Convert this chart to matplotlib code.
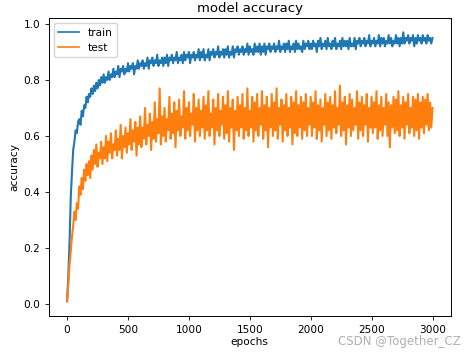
import matplotlib
matplotlib.use("Agg")
import matplotlib.pyplot as plt

# epochs sampled every 10 (0..3000)
epochs = list(range(0, 3001, 10))

train_acc = [
    0.01, 0.10, 0.22, 0.38, 0.47, 0.55, 0.58, 0.62, 0.61, 0.65,
    0.66, 0.64, 0.69, 0.67, 0.71, 0.70, 0.74, 0.72, 0.75, 0.74,
    0.77, 0.75, 0.78, 0.76, 0.79, 0.77, 0.80, 0.78, 0.81, 0.79,
    0.82, 0.79, 0.81, 0.80, 0.83, 0.80, 0.82, 0.81, 0.84, 0.81,
    0.83, 0.82, 0.85, 0.81, 0.84, 0.83, 0.85, 0.82, 0.84, 0.83,
    0.86, 0.83, 0.85, 0.84, 0.86, 0.82, 0.85, 0.84, 0.87, 0.84,
    0.86, 0.85, 0.87, 0.84, 0.86, 0.85, 0.88, 0.84, 0.87, 0.86,
    0.88, 0.85, 0.87, 0.86, 0.89, 0.85, 0.87, 0.86, 0.88, 0.85,
    0.88, 0.86, 0.89, 0.85, 0.88, 0.87, 0.89, 0.86, 0.88, 0.87,
    0.90, 0.86, 0.88, 0.87, 0.89, 0.86, 0.90, 0.87, 0.89, 0.88,
    0.90, 0.86, 0.89, 0.88, 0.90, 0.87, 0.89, 0.88, 0.91, 0.87,
    0.90, 0.88, 0.91, 0.87, 0.89, 0.88, 0.91, 0.87, 0.90, 0.89,
    0.91, 0.88, 0.90, 0.89, 0.92, 0.88, 0.90, 0.89, 0.91, 0.88,
    0.91, 0.89, 0.92, 0.88, 0.90, 0.89, 0.92, 0.88, 0.91, 0.90,
    0.92, 0.89, 0.91, 0.90, 0.92, 0.89, 0.91, 0.90, 0.93, 0.89,
    0.92, 0.90, 0.91, 0.89, 0.93, 0.90, 0.92, 0.90, 0.93, 0.89,
    0.92, 0.90, 0.93, 0.89, 0.92, 0.91, 0.93, 0.90, 0.92, 0.91,
    0.93, 0.90, 0.92, 0.91, 0.94, 0.90, 0.92, 0.91, 0.93, 0.90,
    0.93, 0.91, 0.94, 0.90, 0.92, 0.91, 0.93, 0.90, 0.94, 0.91,
    0.93, 0.91, 0.92, 0.90, 0.94, 0.91, 0.93, 0.92, 0.94, 0.91,
    0.93, 0.91, 0.94, 0.92, 0.93, 0.90, 0.94, 0.92, 0.95, 0.91,
    0.93, 0.92, 0.94, 0.91, 0.95, 0.92, 0.93, 0.91, 0.94, 0.92,
    0.95, 0.91, 0.93, 0.92, 0.94, 0.91, 0.95, 0.92, 0.94, 0.92,
    0.94, 0.91, 0.95, 0.92, 0.93, 0.92, 0.95, 0.91, 0.94, 0.93,
    0.95, 0.92, 0.94, 0.93, 0.95, 0.92, 0.94, 0.93, 0.96, 0.92,
    0.94, 0.93, 0.95, 0.92, 0.94, 0.93, 0.96, 0.92, 0.95, 0.93,
    0.95, 0.92, 0.94, 0.93, 0.96, 0.93, 0.95, 0.92, 0.94, 0.93,
    0.96, 0.93, 0.95, 0.92, 0.95, 0.93, 0.97, 0.93, 0.95, 0.94,
    0.96, 0.93, 0.95, 0.94, 0.96, 0.92, 0.95, 0.93, 0.96, 0.94,
    0.95, 0.93, 0.96, 0.94, 0.95, 0.93, 0.96, 0.94, 0.95, 0.93,
    0.95,
]

test_acc = [
    0.01, 0.07, 0.14, 0.19, 0.24, 0.28, 0.33, 0.30, 0.36, 0.34,
    0.42, 0.39, 0.45, 0.41, 0.48, 0.44, 0.50, 0.46, 0.51, 0.45,
    0.53, 0.48, 0.55, 0.50, 0.57, 0.49, 0.54, 0.52, 0.58, 0.50,
    0.56, 0.52, 0.60, 0.51, 0.58, 0.54, 0.61, 0.52, 0.57, 0.55,
    0.62, 0.53, 0.59, 0.55, 0.64, 0.52, 0.60, 0.56, 0.63, 0.54,
    0.61, 0.57, 0.66, 0.55, 0.62, 0.58, 0.65, 0.53, 0.63, 0.57,
    0.67, 0.56, 0.63, 0.59, 0.70, 0.57, 0.64, 0.60, 0.68, 0.55,
    0.65, 0.59, 0.72, 0.58, 0.66, 0.61, 0.77, 0.57, 0.67, 0.60,
    0.70, 0.58, 0.66, 0.62, 0.74, 0.59, 0.68, 0.61, 0.72, 0.56,
    0.69, 0.62, 0.73, 0.60, 0.67, 0.63, 0.76, 0.59, 0.70, 0.62,
    0.72, 0.60, 0.68, 0.64, 0.75, 0.58, 0.70, 0.62, 0.73, 0.60,
    0.69, 0.63, 0.74, 0.59, 0.71, 0.62, 0.76, 0.60, 0.68, 0.63,
    0.73, 0.57, 0.70, 0.62, 0.75, 0.60, 0.69, 0.64, 0.74, 0.59,
    0.71, 0.61, 0.76, 0.58, 0.70, 0.63, 0.73, 0.55, 0.69, 0.62,
    0.74, 0.60, 0.71, 0.63, 0.75, 0.59, 0.70, 0.62, 0.77, 0.60,
    0.69, 0.63, 0.74, 0.58, 0.72, 0.62, 0.75, 0.60, 0.70, 0.64,
    0.76, 0.59, 0.71, 0.62, 0.74, 0.56, 0.70, 0.63, 0.75, 0.60,
    0.72, 0.62, 0.77, 0.59, 0.70, 0.64, 0.73, 0.58, 0.71, 0.62,
    0.75, 0.60, 0.70, 0.63, 0.74, 0.57, 0.72, 0.61, 0.76, 0.60,
    0.71, 0.63, 0.74, 0.59, 0.72, 0.62, 0.75, 0.60, 0.70, 0.64,
    0.74, 0.60, 0.72, 0.63, 0.76, 0.59, 0.71, 0.62, 0.73, 0.58,
    0.70, 0.64, 0.75, 0.60, 0.72, 0.62, 0.74, 0.59, 0.71, 0.63,
    0.76, 0.61, 0.70, 0.64, 0.78, 0.60, 0.72, 0.62, 0.74, 0.57,
    0.71, 0.63, 0.75, 0.60, 0.73, 0.62, 0.70, 0.64, 0.76, 0.59,
    0.72, 0.62, 0.74, 0.60, 0.71, 0.64, 0.75, 0.58, 0.70, 0.63,
    0.74, 0.61, 0.72, 0.63, 0.76, 0.59, 0.71, 0.62, 0.74, 0.60,
    0.70, 0.64, 0.75, 0.60, 0.72, 0.56, 0.71, 0.63, 0.74, 0.61,
    0.73, 0.62, 0.76, 0.60, 0.71, 0.63, 0.74, 0.59, 0.72, 0.64,
    0.75, 0.61, 0.70, 0.63, 0.74, 0.60, 0.73, 0.62, 0.75, 0.59,
    0.72, 0.63, 0.74, 0.61, 0.73, 0.64, 0.75, 0.62, 0.72, 0.63,
    0.70,
]

xticks = [0, 500, 1000, 1500, 2000, 2500, 3000]
yticks = [0.0, 0.2, 0.4, 0.6, 0.8, 1.0]

plt.rcParams['font.size'] = 7.6

fig = plt.figure(figsize=(4.74, 3.54), dpi=100)
ax = fig.add_axes([0.103, 0.107, 0.848, 0.842])

ax.plot(epochs, train_acc, color='#1f77b4', lw=1.5, label='train')
ax.plot(epochs, test_acc, color='#ff7f0e', lw=1.5, label='test')

ax.set_xlim(-150, 3150)
ax.set_ylim(-0.043, 1.021)
ax.set_xticks(xticks)
ax.set_yticks(yticks)
ax.tick_params(length=2.6, width=0.6)
for s in ax.spines.values():
    s.set_linewidth(0.7)

ax.set_title('model accuracy', fontsize=9.5, pad=4)
ax.set_xlabel('epochs', labelpad=2)
ax.set_ylabel('accuracy', labelpad=3)
leg = ax.legend(loc='upper left', fontsize=7.6)
for line in leg.get_lines():
    line.set_linewidth(1.2)

# watermark
fig.text(0.972, 0.018, 'CSDN @Together_CZ', color='#b0b0b0', fontsize=8.5,
         ha='right', va='bottom')

fig.savefig('out.png', dpi=100)
